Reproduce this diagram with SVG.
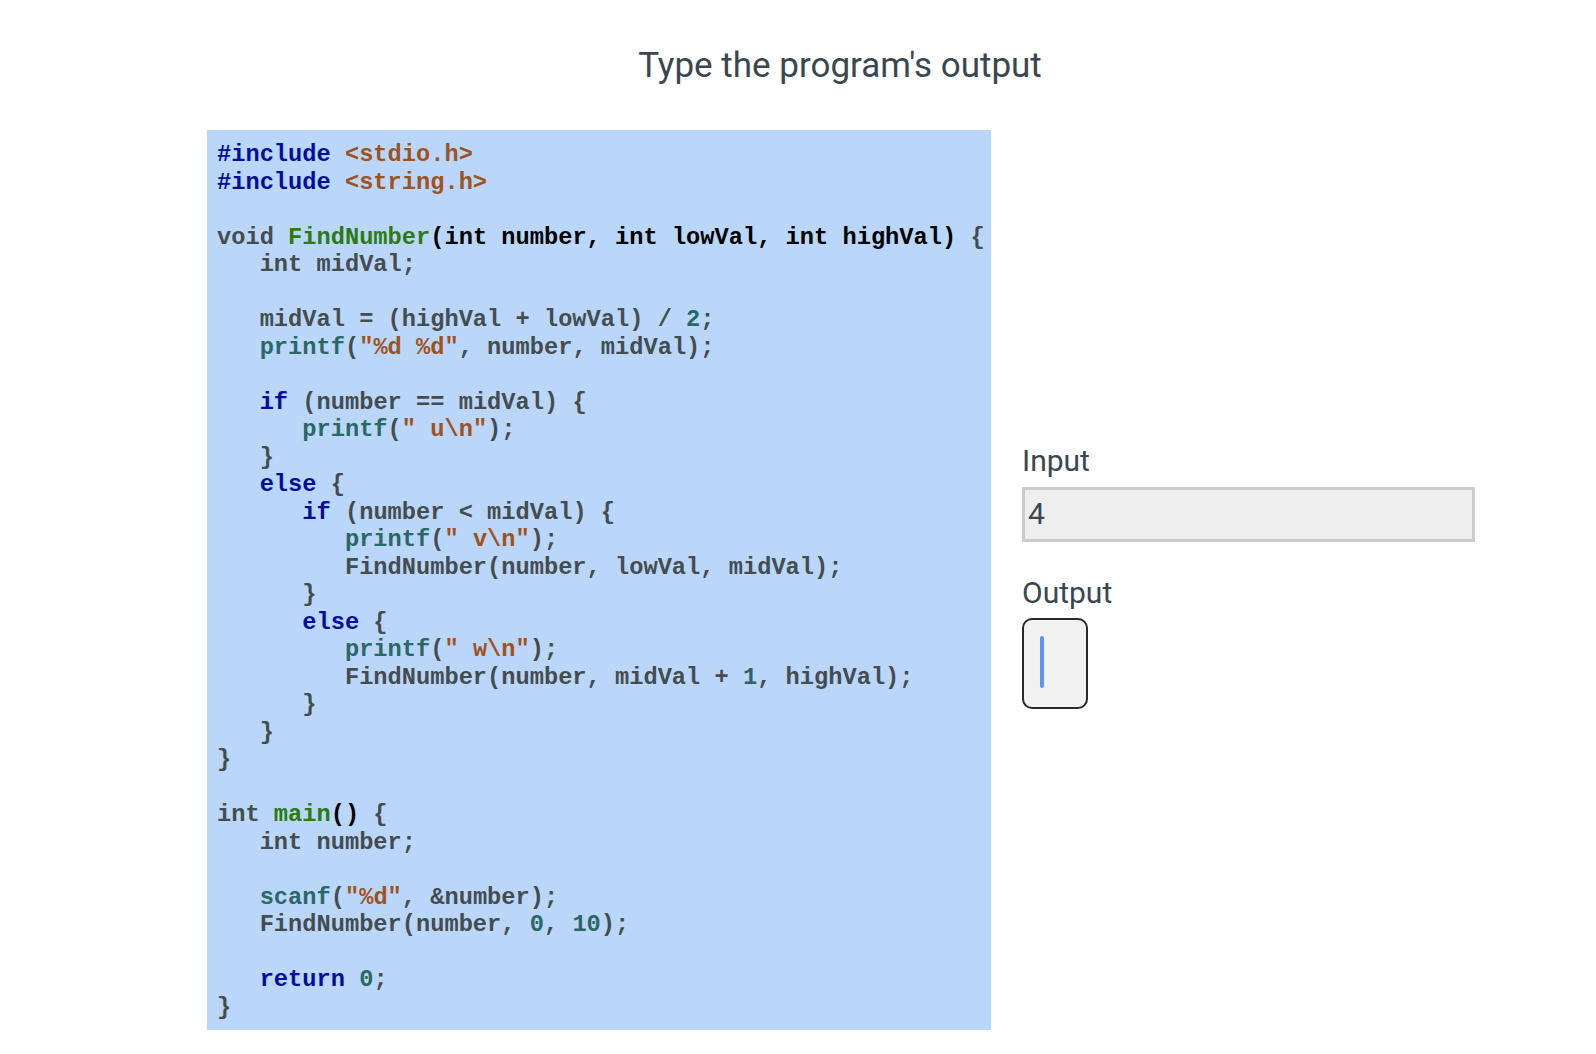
<svg xmlns="http://www.w3.org/2000/svg" width="1596" height="1054" viewBox="0 0 1596 1054" xml:space="preserve">
<style>
.c text{font-family:"Liberation Mono","DejaVu Sans Mono",monospace;font-size:23.7px;font-weight:bold;fill:#454c50;white-space:pre}
.k{fill:#000c9c}.s{fill:#a0521e}.f{fill:#2c7a12}.b{fill:#000}.p{fill:#2a6866}.n{fill:#2a6866}
.ui{font-family:Roboto,"Liberation Sans",sans-serif;fill:#3a4750}
</style>
<rect width="1596" height="1054" fill="#fff"/>
<text class="ui" x="840" y="77" font-size="35" text-anchor="middle">Type the program's output</text>
<rect x="207" y="130" width="784" height="900" fill="#bad7f9"/>
<g class="c">
<text x="217" y="161"><tspan class="k">#include</tspan> <tspan class="s">&lt;stdio.h&gt;</tspan></text>
<text x="217" y="188.5"><tspan class="k">#include</tspan> <tspan class="s">&lt;string.h&gt;</tspan></text>
<text x="217" y="243.5">void <tspan class="f">FindNumber</tspan><tspan class="b">(int number, int lowVal, int highVal)</tspan> {</text>
<text x="217" y="271">   int midVal;</text>
<text x="217" y="326">   midVal = (highVal + lowVal) / <tspan class="n">2</tspan>;</text>
<text x="217" y="353.5">   <tspan class="p">printf</tspan>(<tspan class="s">"%d %d"</tspan>, number, midVal);</text>
<text x="217" y="408.5">   <tspan class="k">if</tspan> (number == midVal) {</text>
<text x="217" y="436">      <tspan class="p">printf</tspan>(<tspan class="s">" u\n"</tspan>);</text>
<text x="217" y="463.5">   }</text>
<text x="217" y="491">   <tspan class="k">else</tspan> {</text>
<text x="217" y="518.5">      <tspan class="k">if</tspan> (number &lt; midVal) {</text>
<text x="217" y="546">         <tspan class="p">printf</tspan>(<tspan class="s">" v\n"</tspan>);</text>
<text x="217" y="573.5">         FindNumber(number, lowVal, midVal);</text>
<text x="217" y="601">      }</text>
<text x="217" y="628.5">      <tspan class="k">else</tspan> {</text>
<text x="217" y="656">         <tspan class="p">printf</tspan>(<tspan class="s">" w\n"</tspan>);</text>
<text x="217" y="683.5">         FindNumber(number, midVal + <tspan class="n">1</tspan>, highVal);</text>
<text x="217" y="711">      }</text>
<text x="217" y="738.5">   }</text>
<text x="217" y="766">}</text>
<text x="217" y="821">int <tspan class="f">main</tspan><tspan class="b">()</tspan> {</text>
<text x="217" y="848.5">   int number;</text>
<text x="217" y="903.5">   <tspan class="p">scanf</tspan>(<tspan class="s">"%d"</tspan>, &amp;number);</text>
<text x="217" y="931">   FindNumber(number, <tspan class="n">0</tspan>, <tspan class="n">10</tspan>);</text>
<text x="217" y="986">   <tspan class="k">return</tspan> <tspan class="n">0</tspan>;</text>
<text x="217" y="1013.5">}</text>
</g>
<text class="ui" x="1022" y="471" font-size="30">Input</text>
<rect x="1023.5" y="488.5" width="450" height="52" fill="#eeeeee" stroke="#cccccc" stroke-width="3"/>
<text class="ui" x="1028" y="524" font-size="30">4</text>
<text class="ui" x="1022" y="603" font-size="30">Output</text>
<rect x="1023" y="619" width="64" height="89" rx="9" fill="#f1f1f1" stroke="#2a2a2a" stroke-width="2"/>
<line x1="1042" y1="638" x2="1042" y2="686" stroke="#5b95f5" stroke-width="4" stroke-linecap="round"/>
</svg>
